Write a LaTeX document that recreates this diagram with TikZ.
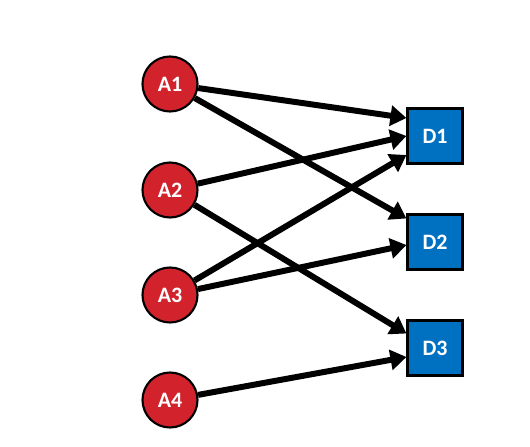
\documentclass[tikz,border=0pt]{standalone}
\usepackage{fontspec}
\setmainfont{Carlito}
\usepackage{tikz}
\usetikzlibrary{arrows.meta, positioning, calc}
\usepackage{xcolor}
\definecolor{agentred}{RGB}{210,35,45}
\definecolor{depotblue}{RGB}{0,112,192}

\tikzset{
  agent/.style={circle, fill=agentred, draw=black, line width=1.2pt, minimum size=1.1cm,
    inner sep=0pt, font=\fontsize{12.5}{14}\selectfont\bfseries, text=white},
  depot/.style={rectangle, fill=depotblue, draw=black, line width=1.2pt, minimum size=1.1cm,
    inner sep=0pt, font=\fontsize{12.5}{14}\selectfont\bfseries, text=white},
  link/.style={line width=3.4pt, -{Triangle[length=0.32cm,width=0.4cm]}}
}

\begin{document}
\begin{tikzpicture}

  \useasboundingbox (0,0) rectangle (10.6,8.92);

  % Agents
  \foreach \i/\y in {1/7.24, 2/5.12, 3/3.02, 4/0.92}{
    \node[agent] (A\i) at (3.4,\y) {A\i};
  }

  % Destinations
  \foreach \i/\y in {1/6.2, 2/4.08, 3/1.96}{
    \node[depot] (D\i) at (8.7,\y) {D\i};
  }

  % Links
  \draw[link] (A1) -- ([yshift=0.36cm]D1.west);
  \draw[link] (A2) -- (D1.west);
  \draw[link] (A3) -- ([yshift=-0.38cm]D1.west);
  \draw[link] (A1) -- ([yshift=-0.1cm]D2.north west);
  \draw[link] (A3) -- ([yshift=-0.06cm]D2.west);
  \draw[link] (A2) -- ([yshift=0.29cm]D3.west);
  \draw[link] (A4) -- ([yshift=-0.18cm]D3.west);

\end{tikzpicture}
\end{document}
